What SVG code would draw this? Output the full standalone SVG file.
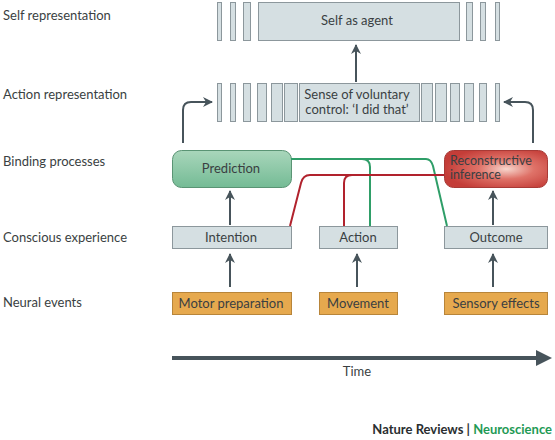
<svg xmlns="http://www.w3.org/2000/svg" width="555" height="440" viewBox="0 0 555 440">
<defs>
<style>
.lbl{font-family:Lato,"Open Sans","Liberation Sans",sans-serif;font-size:13px;fill:#3a3f42}
.txt{font-family:Lato,"Open Sans","Liberation Sans",sans-serif;font-size:13px;fill:#3a3f42;text-anchor:middle}
.gbox{fill:#d5dfe2;stroke:#8c979c;stroke-width:1}
.bar{fill:#d5dfe2;stroke:#8c979c;stroke-width:1}
.obox{fill:#e6a94e;stroke:#b8853a;stroke-width:1}
.arr{fill:none;stroke:#47545b;stroke-width:2}
.green{fill:none;stroke:#2f9e68;stroke-width:2}
.red{fill:none;stroke:#b1222d;stroke-width:2}
</style>
<marker id="ah" viewBox="0 0 10 10" refX="9" refY="5" markerWidth="5" markerHeight="5" orient="auto" markerUnits="strokeWidth">
<path d="M0,0 L10,5 L0,10 L3,5 Z" fill="#47545b"/>
</marker>
<linearGradient id="gg" x1="0" y1="0" x2="0" y2="1">
<stop offset="0" stop-color="#a9d6bb"/>
<stop offset="1" stop-color="#74bb95"/>
</linearGradient>
<radialGradient id="rg" cx="0.6" cy="0.5" r="0.6">
<stop offset="0" stop-color="#f7d6cd"/>
<stop offset="0.45" stop-color="#df7268"/>
<stop offset="1" stop-color="#c43d38"/>
</radialGradient>
</defs>
<rect width="555" height="440" fill="#ffffff"/>

<g id="row-labels">
<text class="lbl" x="3" y="20">Self representation</text>
<text class="lbl" x="3" y="99">Action representation</text>
<text class="lbl" x="3" y="166">Binding processes</text>
<text class="lbl" x="3" y="242">Conscious experience</text>
<text class="lbl" x="3" y="307">Neural events</text>
</g>

<g id="self-agent">
<rect class="bar" x="217.5" y="2.5" width="4" height="38"/>
<rect class="bar" x="230.5" y="2.5" width="5" height="38"/>
<rect class="bar" x="243.5" y="2.5" width="7" height="38"/>
<rect class="gbox" x="258.5" y="2.5" width="201" height="38"/>
<rect class="bar" x="466.5" y="2.5" width="6" height="38"/>
<rect class="bar" x="480.5" y="2.5" width="5" height="38"/>
<rect class="bar" x="495.5" y="2.5" width="4" height="38"/>
<text class="txt" x="357" y="25">Self as agent</text>
</g>

<g id="sense-control">
<rect class="bar" x="217.5" y="83.5" width="4" height="38"/>
<rect class="bar" x="230.5" y="83.5" width="5" height="38"/>
<rect class="bar" x="243.5" y="83.5" width="7" height="38"/>
<rect class="bar" x="257.5" y="83.5" width="9" height="38"/>
<rect class="bar" x="271.5" y="83.5" width="11" height="38"/>
<rect class="bar" x="284.5" y="83.5" width="13" height="38"/>
<rect class="gbox" x="299.5" y="83.5" width="120" height="38"/>
<rect class="bar" x="421.5" y="83.5" width="11" height="38"/>
<rect class="bar" x="435.5" y="83.5" width="11" height="38"/>
<rect class="bar" x="450.5" y="83.5" width="9" height="38"/>
<rect class="bar" x="464.5" y="83.5" width="9" height="38"/>
<rect class="bar" x="479.5" y="83.5" width="7" height="38"/>
<rect class="bar" x="495.5" y="83.5" width="4" height="38"/>
<text class="txt" x="357" y="99">Sense of voluntary</text>
<text class="txt" x="357" y="114">control: ‘I did that’</text>
</g>

<g id="prediction">
<rect x="172.5" y="150.5" width="119" height="37" rx="9" fill="url(#gg)" stroke="#5a9474" stroke-width="1"/>
<text class="txt" x="231" y="173">Prediction</text>
</g>

<g id="reconstructive">
<rect x="444.5" y="150.5" width="103" height="37" rx="9" fill="url(#rg)" stroke="#a83a36" stroke-width="1"/>
<text class="lbl" x="450" y="165" style="font-size:12.5px">Reconstructive</text>
<text class="lbl" x="450" y="179" style="font-size:12.5px">inference</text>
</g>

<g id="intention">
<rect class="gbox" x="172.5" y="226.5" width="119" height="22"/>
<text class="txt" x="231" y="242">Intention</text>
</g>
<g id="action">
<rect class="gbox" x="319.5" y="226.5" width="78" height="22"/>
<text class="txt" x="358" y="242">Action</text>
</g>
<g id="outcome">
<rect class="gbox" x="444.5" y="226.5" width="103" height="22"/>
<text class="txt" x="496" y="242">Outcome</text>
</g>

<g id="motor">
<rect class="obox" x="172.5" y="292.5" width="119" height="22"/>
<text class="txt" x="231" y="308">Motor preparation</text>
</g>
<g id="movement">
<rect class="obox" x="319.5" y="292.5" width="78" height="22"/>
<text class="txt" x="358" y="308">Movement</text>
</g>
<g id="sensory">
<rect class="obox" x="444.5" y="292.5" width="103" height="22"/>
<text class="txt" x="496" y="308">Sensory effects</text>
</g>

<g id="connectors">
<path class="arr" d="M230,287 V254" marker-end="url(#ah)"/>
<path class="arr" d="M357,287 V254" marker-end="url(#ah)"/>
<path class="arr" d="M493,287 V254" marker-end="url(#ah)"/>
<path class="arr" d="M230,225 V191" marker-end="url(#ah)"/>
<path class="arr" d="M493,225 V191" marker-end="url(#ah)"/>
<path class="arr" d="M356,82 V45" marker-end="url(#ah)"/>
<path class="arr" d="M183,143 V110 Q183,102 191,102 H212" marker-end="url(#ah)"/>
<path class="arr" d="M533,143 V110 Q533,102 525,102 H504" marker-end="url(#ah)"/>
<path class="green" d="M291,159 H362 Q370,159 370,167 V226"/>
<path class="green" d="M362,159 H426 Q431,159 433,166 L447,226"/>
<path class="red" d="M444,175 H310 Q303,175 301,183 L290,226"/>
<path class="red" d="M352,175 Q344,175 344,183 V226"/>
<path d="M172,358 H538" stroke="#47545b" stroke-width="4" fill="none"/>
<path d="M536,350 L552,358 L536,366 Z" fill="#47545b"/>
</g>

<g id="footer">
<text class="txt" x="357" y="376">Time</text>
<text x="552" y="434" text-anchor="end" style="font-family:Lato,'Open Sans','Liberation Sans',sans-serif;font-size:13px;font-weight:bold"><tspan fill="#2a2e30">Nature Reviews | </tspan><tspan fill="#1f9a55">Neuroscience</tspan></text>
</g>
</svg>
